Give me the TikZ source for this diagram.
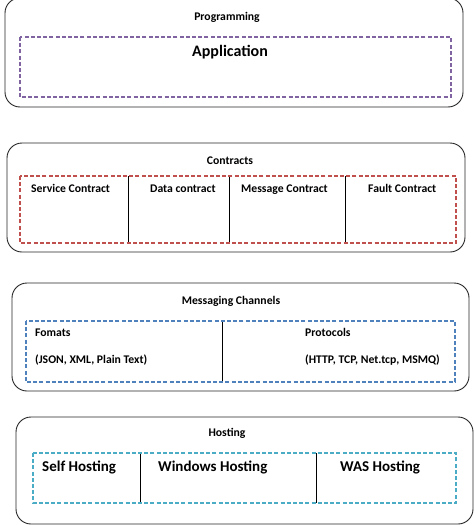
\documentclass[tikz,border=0pt]{standalone}
\usepackage{fontspec}
\setmainfont{Carlito}
\begin{document}
\begin{tikzpicture}[x=1pt,y=-1pt,
  outerbox/.style={draw=black!85,line width=0.9pt,rounded corners=15pt},
  innerbox/.style={line width=1.5pt,dash pattern=on 4pt off 2.2pt},
  divider/.style={draw=black,line width=0.9pt},
  lbl/.style={inner sep=0pt,font=\fontsize{11.7}{13}\selectfont\bfseries},
  biglbl/.style={inner sep=0pt,font=\fontsize{15}{17}\selectfont\bfseries},
  huge/.style={inner sep=0pt,font=\fontsize{16}{18}\selectfont\bfseries}]
\useasboundingbox (0,0) rectangle (474,525);
\definecolor{cpurple}{HTML}{8064A2}
\definecolor{cred}{HTML}{C0504D}
\definecolor{cblue}{HTML}{4F81BD}
\definecolor{ccyan}{HTML}{4BACC6}
% Programming
\draw[outerbox] (5,-2) rectangle (463,107);
\coordinate (p1) at (20,37);
\coordinate (p2) at (451,97);
\draw[innerbox,draw=cpurple] (p1) rectangle (p2);
\node[lbl,anchor=base] (prog) at (227,20) {Programming};
\node[huge,anchor=base] (app) at (230,56) {Application};
% Contracts
\draw[outerbox] (7,143) rectangle (465,252);
\coordinate (c1) at (20,176);
\coordinate (c2) at (456,243);
\coordinate (d1t) at (128,176); \coordinate (d1b) at (128,243);
\coordinate (d2t) at (229,176); \coordinate (d2b) at (229,243);
\coordinate (d3t) at (345,176); \coordinate (d3b) at (345,243);
\draw[divider] (d1t) -- (d1b);
\draw[divider] (d2t) -- (d2b);
\draw[divider] (d3t) -- (d3b);
\draw[innerbox,draw=cred] (c1) rectangle (c2);
\node[lbl,anchor=base] (contracts) at (230,164) {Contracts};
\node[lbl,anchor=base west] (sc) at (31,192) {Service Contract};
\node[lbl,anchor=base west] (dc) at (150,192) {Data contract};
\node[lbl,anchor=base west] (mc) at (241,192) {Message Contract};
\node[lbl,anchor=base west] (fc) at (368,192) {Fault Contract};
% Messaging Channels
\draw[outerbox] (12,283) rectangle (469,391);
\coordinate (m1) at (26,321);
\coordinate (m2) at (455,382);
\coordinate (e1t) at (222,321); \coordinate (e1b) at (222,382);
\draw[divider] (e1t) -- (e1b);
\draw[innerbox,draw=cblue] (m1) rectangle (m2);
\node[lbl,anchor=base] (msg) at (231,304) {Messaging Channels};
\node[lbl,anchor=base west] (fmt) at (35,336) {Fomats};
\node[lbl,anchor=base west] (fmtl) at (35,363) {(JSON, XML, Plain Text)};
\node[lbl,anchor=base west] (prt) at (305,336) {Protocols};
\node[lbl,anchor=base west] (prtl) at (305,363) {(HTTP, TCP, Net.tcp, MSMQ)};
% Hosting
\draw[outerbox] (16,417) rectangle (473,524);
\coordinate (h1) at (33,453);
\coordinate (h2) at (456,503);
\coordinate (f1t) at (140,453); \coordinate (f1b) at (140,503);
\coordinate (f2t) at (316,453); \coordinate (f2b) at (316,503);
\draw[divider] (f1t) -- (f1b);
\draw[divider] (f2t) -- (f2b);
\draw[innerbox,draw=ccyan] (h1) rectangle (h2);
\node[lbl,anchor=base] (host) at (227,436) {Hosting};
\node[biglbl,anchor=base west] (sh) at (42,471) {Self Hosting};
\node[biglbl,anchor=base west] (wh) at (158,471) {Windows Hosting};
\node[biglbl,anchor=base west] (wa) at (340,471) {WAS Hosting};
\end{tikzpicture}
\end{document}
